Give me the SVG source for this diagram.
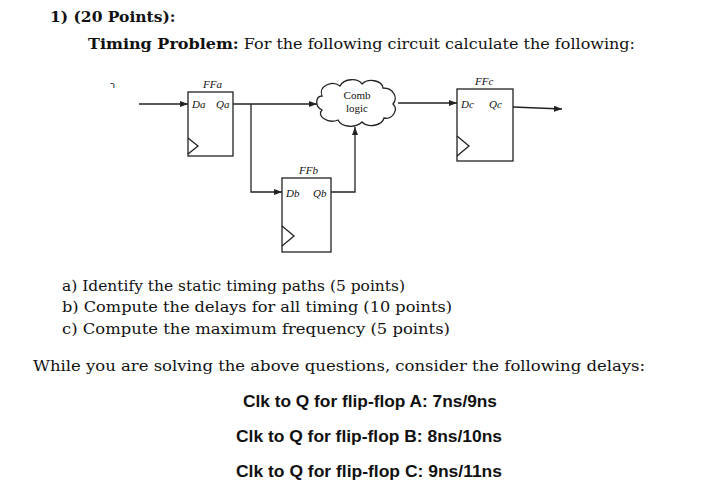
<svg xmlns="http://www.w3.org/2000/svg" width="715" height="498" viewBox="0 0 715 498">
<style>
.t{font-family:"DejaVu Serif",serif;font-size:15.5px;fill:#111}
.b{font-weight:bold}
.s{font-family:"Liberation Sans",Arial,sans-serif;font-size:16px;fill:#111;font-weight:bold}
.l{font-family:"Liberation Serif",serif;font-style:italic;font-size:11px;fill:#111}
.box{fill:#fff;stroke:#222;stroke-width:1.3}
.w{fill:none;stroke:#222;stroke-width:1.3}
</style>
<defs><marker id="ar" markerWidth="8" markerHeight="6" refX="8" refY="3" orient="auto" markerUnits="userSpaceOnUse"><path d="M0,0L8,3L0,6z" fill="#222"/></marker></defs>
<rect width="715" height="498" fill="#fff"/>
<text class="t b" x="50" y="22">1)  (20 Points):</text>
<text class="t" x="88" y="49" textLength="547" lengthAdjust="spacingAndGlyphs"><tspan class="b">Timing Problem:</tspan> For the following circuit calculate the following:</text>
<text x="110" y="88" font-family="DejaVu Sans,sans-serif" font-size="9">ר</text>
<g id="connectors">
<path class="w" d="M139,104H188" marker-end="url(#ar)"/>
<path class="w" d="M233,104H317" marker-end="url(#ar)"/>
<path class="w" d="M251,104V192H282" marker-end="url(#ar)"/>
<path class="w" d="M331,192H355V127" marker-end="url(#ar)"/>
<path class="w" d="M398,103H457" marker-end="url(#ar)"/>
<path class="w" d="M513,107L562,109" marker-end="url(#ar)"/>
</g>
<g id="FFa"><rect class="box" x="188" y="92" width="45" height="64"/><path class="w" d="M188,138L198,146L188,154"/><text class="l" x="203" y="88">FFa</text><text class="l" x="192" y="108">Da</text><text class="l" x="216" y="108">Qa</text></g>
<g id="FFb"><rect class="box" x="282" y="178" width="49" height="74"/><path class="w" d="M282,226L294,236L282,246"/><text class="l" x="299" y="174">FFb</text><text class="l" x="286" y="197">Db</text><text class="l" x="313" y="197">Qb</text></g>
<g id="FFc"><rect class="box" x="457" y="89" width="56" height="72"/><path class="w" d="M457,136L469,146L457,156"/><text class="l" x="475" y="85">FFc</text><text class="l" x="461" y="108">Dc</text><text class="l" x="489" y="108">Qc</text></g>
<g id="comb"><path class="box" d="M322,96C318,86 332,80 340,86C344,78 358,78 362,84C368,78 382,80 383,88C394,88 398,98 393,104C399,110 392,120 384,118C382,126 368,128 362,122C356,128 342,128 338,120C328,124 316,116 322,110C314,106 316,96 322,96Z"/><text class="l" style="font-style:normal" x="357" y="99" text-anchor="middle">Comb</text><text class="l" style="font-style:normal" x="357" y="112" text-anchor="middle">logic</text></g>
<text class="t" x="62" y="291" textLength="343" lengthAdjust="spacingAndGlyphs">a)  Identify the static timing paths (5 points)</text>
<text class="t" x="62" y="312" textLength="390" lengthAdjust="spacingAndGlyphs">b)  Compute the delays for all timing (10 points)</text>
<text class="t" x="62" y="334" textLength="388" lengthAdjust="spacingAndGlyphs">c)  Compute the maximum frequency (5 points)</text>
<text class="t" x="33" y="371" textLength="612" lengthAdjust="spacingAndGlyphs">While you are solving the above questions, consider the following delays:</text>
<text class="s" x="243" y="407" textLength="254" lengthAdjust="spacingAndGlyphs">Clk to Q for flip-flop A: 7ns/9ns</text>
<text class="s" x="236" y="442" textLength="266" lengthAdjust="spacingAndGlyphs">Clk to Q for flip-flop B: 8ns/10ns</text>
<text class="s" x="236" y="477" textLength="266" lengthAdjust="spacingAndGlyphs">Clk to Q for flip-flop C: 9ns/11ns</text>
</svg>
